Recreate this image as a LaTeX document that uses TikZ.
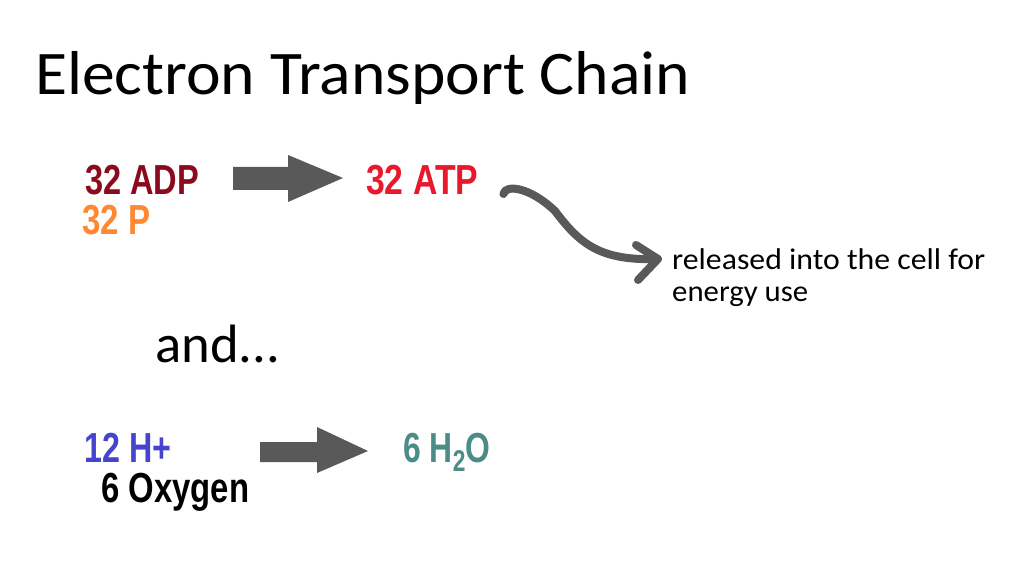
\documentclass[tikz,border=0pt]{standalone}
\usepackage{fontspec}
\usepackage{graphicx}
\setmainfont{Carlito}
\newfontfamily\labfont{Liberation Sans}
\definecolor{adpcol}{HTML}{8B0A1E}
\definecolor{pcol}{HTML}{FF8833}
\definecolor{atpcol}{HTML}{E8192C}
\definecolor{hcol}{HTML}{4444CC}
\definecolor{watcol}{HTML}{4A8C87}
\definecolor{arrcol}{HTML}{595959}
\newcommand\fitw[2]{\resizebox{#1}{\height}{#2}}
\tikzset{
  lab/.style={inner sep=0pt, anchor=base west, font=\labfont\bfseries\fontsize{42}{42}\selectfont},
  hand/.style={inner sep=0pt, anchor=base west, text=black},
  fatarrow/.style={fill=arrcol, draw=none},
  curvy/.style={draw=arrcol, line width=8pt, line cap=round, line join=round}
}
\begin{document}
\begin{tikzpicture}[x=1pt,y=1pt]
\fill[white] (0,0) rectangle (1024,579);
\useasboundingbox (0,0) rectangle (1024,579);
% title
\node[hand, font=\fontsize{62}{62}\selectfont] (title) at (35,484) {\fitw{655pt}{Electron Transport Chain}};
% first reaction
\node[lab, text=adpcol] (adp) at (85,384) {\fitw{114pt}{32 ADP}};
\node[lab, text=pcol] (p) at (82,344) {\fitw{68pt}{32 P}};
\node[lab, text=atpcol] (atp) at (366,384) {\fitw{112pt}{32 ATP}};
\coordinate (a1) at (233,401);
\fill[fatarrow] (a1) ++(0,11) -- ++(55,0) -- ++(0,12) -- (343,401) -- (288,377) -- (288,389) -- (233,389) -- cycle;
% released text
\node[hand, font=\fontsize{30}{30}\selectfont] (rel1) at (672,310) {\fitw{313pt}{released into the cell for}};
\node[hand, font=\fontsize{30}{30}\selectfont] (rel2) at (672,278) {\fitw{136pt}{energy use}};
\coordinate (cs) at ([xshift=25pt,yshift=1pt]atp.base east);
\coordinate (ce) at ([xshift=-14pt,yshift=10pt]rel1.base west);
\draw[curvy] (cs) .. controls +(2,10) and (530,392) .. (555,368) .. controls (580,335) and (600,318) .. (ce);
\draw[curvy] ([xshift=-22pt,yshift=14pt]ce) -- (ce) -- ([xshift=-20pt,yshift=-21pt]ce);
% and...
\node[hand, font=\fontsize{54}{54}\selectfont] (and) at (155,217) {\fitw{125pt}{and...}};
% second reaction
\node[lab, text=hcol] (h) at (84,117) {\fitw{87pt}{12 H+}};
\node[lab, text=black] (ox) at (101,77) {\fitw{148pt}{6 Oxygen}};
\node[lab, text=watcol] (wat) at (403,117) {\fitw{87pt}{6 H\raisebox{-9pt}{\fontsize{30}{30}\selectfont 2}O}};
\coordinate (a2) at (260,127);
\fill[fatarrow] (a2) ++(0,10) -- ++(57,0) -- ++(0,15) -- (368,128) -- (317,106) -- (317,117) -- (260,117) -- cycle;
\end{tikzpicture}
\end{document}
